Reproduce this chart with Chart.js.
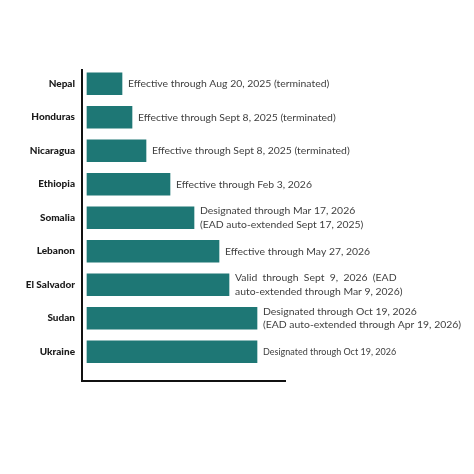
<!DOCTYPE html>
<html>
<head>
<meta charset="utf-8">
<script src="https://cdn.jsdelivr.net/npm/chart.js@4.4.1/dist/chart.umd.min.js"></script>
<style>
  html, body { margin: 0; padding: 0; background: #ffffff; }
  canvas { display: block; }
</style>
</head>
<body>
<canvas id="c" width="474" height="474"></canvas>
<script>
const categories = ['Nepal', 'Honduras', 'Nicaragua', 'Ethiopia', 'Somalia', 'Lebanon', 'El Salvador', 'Sudan', 'Ukraine'];
const barLengths = [35, 45, 59, 83, 107, 132, 142, 170, 170];
const statusNotes = [
  ['Effective through Aug 20, 2025 (terminated)'],
  ['Effective through Sept 8, 2025 (terminated)'],
  ['Effective through Sept 8, 2025 (terminated)'],
  ['Effective through Feb 3, 2026'],
  ['Designated through Mar 17, 2026', '(EAD auto-extended Sept 17, 2025)'],
  ['Effective through May 27, 2026'],
  ['Valid  through  Sept  9,  2026  (EAD', 'auto-extended through Mar 9, 2026)'],
  ['Designated through Oct 19, 2026', '(EAD auto-extended through Apr 19, 2026)'],
  ['Designated through Oct 19, 2026']
];

const notesPlugin = {
  id: 'notes',
  afterDatasetsDraw(chart) {
    const ctx = chart.ctx;
    const meta = chart.getDatasetMeta(0);
    ctx.save();
    ctx.fillStyle = '#404040';
    ctx.textBaseline = 'middle';
    ctx.textAlign = 'left';
    meta.data.forEach((bar, i) => {
      const lines = statusNotes[i];
      const size = i === categories.length - 1 ? 9 : 10.4;
      ctx.font = size + 'px Lato';
      const lh = 13.8;
      const y0 = bar.y - (lines.length - 1) * lh / 2;
      lines.forEach((t, j) => ctx.fillText(t, bar.x + 6, y0 + j * lh));
    });
    ctx.restore();
  }
};

const axesPlugin = {
  id: 'axesLines',
  afterDraw(chart) {
    const ctx = chart.ctx;
    const a = chart.chartArea;
    ctx.save();
    ctx.strokeStyle = '#111111';
    ctx.lineWidth = 2;
    ctx.beginPath();
    ctx.moveTo(a.left, a.top + 2);
    ctx.lineTo(a.left, a.bottom + 13.5);
    ctx.moveTo(a.left - 1, a.bottom + 12.5);
    ctx.lineTo(a.right, a.bottom + 12.5);
    ctx.stroke();
    ctx.restore();
  }
};

new Chart(document.getElementById('c'), {
  type: 'bar',
  data: {
    labels: categories,
    datasets: [{
      data: barLengths,
      backgroundColor: '#1e7775',
      barThickness: 22
    }]
  },
  options: {
    indexAxis: 'y',
    responsive: false,
    animation: false,
    layout: { padding: { top: 67, bottom: 105.5, right: 188, left: 0 } },
    plugins: { legend: { display: false }, tooltip: { enabled: false } },
    scales: {
      x: { display: false, min: -5, max: 199 },
      y: {
        type: 'category',
        grid: { display: false, drawTicks: false },
        border: { display: false },
        ticks: {
          color: '#1a1a1a',
          font: { family: 'Lato', weight: 900, size: 10 },
          padding: 7
        },
        afterFit(scale) { scale.width = 82; }
      }
    }
  },
  plugins: [notesPlugin, axesPlugin]
});
</script>
</body>
</html>
